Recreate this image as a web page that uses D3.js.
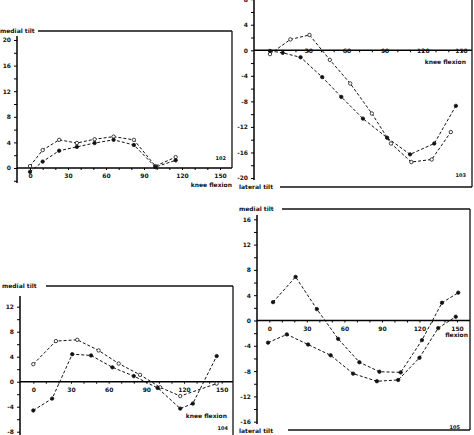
<!DOCTYPE html>
<html><head><meta charset="utf-8">
<script src="https://cdn.jsdelivr.net/npm/d3@7"></script>
<style>body{margin:0;background:#fff}svg text{font-family:"DejaVu Sans",Arial,sans-serif;font-weight:bold;fill:#111}</style>
</head><body><svg id="c" width="474" height="435"></svg>
<script>
// knee flexion (deg) and tilt (deg) per specimen
const flex102a=[0,10,23,37,51,66,82,99,115], tilt102a=[0.3,2.8,4.4,3.9,4.5,4.9,4.4,0.3,1.7];
const flex102b=[0,10,23,37,51,66,82,99,115], tilt102b=[-0.6,1.0,2.7,3.3,3.9,4.4,3.6,0.15,1.2];
const flex103a=[0,16,31,47,63,80,95,111,127,142], tilt103a=[-0.6,1.7,2.4,-1.5,-5.2,-9.9,-14.6,-17.5,-17.1,-12.8];
const flex103b=[0,10,24,41,56,73,92,110,129,146], tilt103b=[-0.1,-0.4,-1.1,-4.2,-7.3,-10.7,-13.7,-16.3,-14.6,-8.7];
const flex104a=[0,18,35,52,68,85,101,117,146], tilt104a=[2.8,6.5,6.7,5.0,2.9,1.1,-0.9,-2.3,-0.3];
const flex104b=[0,15,31,46,63,80,99,117,127,146], tilt104b=[-4.6,-2.7,4.4,4.2,2.3,0.9,-1.0,-4.3,-3.5,4.1];
const flex105a=[3,21,38,55,72,88,105,122,138,151], tilt105a=[2.9,6.9,1.8,-2.9,-6.6,-8.1,-8.2,-3.1,2.8,4.4];
const flex105b=[-1,14,31,49,67,86,103,120,135,149], tilt105b=[-3.5,-2.2,-3.8,-5.5,-8.4,-9.6,-9.4,-5.9,-1.2,0.6];
const xTickLabels=[0,30,60,90,120,150];

const svg=d3.select("#c");
function panel(o){
  const g=svg.append("g");
  const x=d3.scaleLinear().domain([0,150]).range([o.x0,o.x1]);
  const y=d3.scaleLinear().domain([o.ymin,o.ymax]).range([o.yb,o.yt]);
  const ya=d3.axisLeft(y).tickValues(d3.range(o.ymin,o.ymax+0.1,2)).tickSize(3).tickFormat(d=>d%4===0?d:"");
  const yg=g.append("g").attr("transform",`translate(${o.ax},0)`).call(ya);
  yg.select(".domain").attr("stroke-width",1.5).attr("d",`M0,${o.ayTop}V${o.ayBot}`);
  yg.selectAll("text").attr("font-size",6).attr("x",-6).attr("fill","#111");
  const xa=d3.axisBottom(x).tickValues(d3.range(0,151,10)).tickSize(2).tickFormat(d=>xTickLabels.includes(d)?d:"");
  const xg=g.append("g").attr("transform",`translate(0,${y(0)})`).call(xa);
  xg.select(".domain").attr("stroke-width",1.5).attr("d",`M${o.ax},0H${o.fr}`);
  xg.selectAll("text").attr("font-size",6).attr("dy",o.xdy||"0.9em").attr("fill","#111");
  if(o.hide0) xg.selectAll(".tick text").filter(d=>d===0).text("");
  const fs=g.append("g").attr("stroke","#111").attr("stroke-width",1.3).attr("fill","none");
  if(o.top!=null){fs.append("line").attr("x1",o.topx).attr("x2",o.fr).attr("y1",o.top).attr("y2",o.top);}
  if(o.bot!=null){fs.append("line").attr("x1",o.botx).attr("x2",o.fr).attr("y1",o.bot).attr("y2",o.bot);}
  fs.append("line").attr("x1",o.fr).attr("x2",o.fr).attr("y1",o.rt).attr("y2",o.rb);
  const line=d3.line().x(d=>x(d[0])).y(d=>y(d[1]));
  o.series.forEach(s=>{
    const pts=s.f.map((v,i)=>[v,s.t[i]]);
    g.append("path").attr("d",line(pts)).attr("fill","none").attr("stroke","#111").attr("stroke-width",1).attr("stroke-dasharray","3,2");
    g.selectAll(null).data(pts).enter().append("circle").attr("cx",d=>x(d[0])).attr("cy",d=>y(d[1])).attr("r",1.7)
      .attr("fill",s.open?"#fff":"#111").attr("stroke","#111").attr("stroke-width",0.8);
  });
  o.labels.forEach(l=>g.append("text").attr("x",l[0]).attr("y",l[1]).attr("font-size",l[3]||6).attr("fill","#111").attr("text-anchor",l[4]||"start").text(l[2]));
}
panel({x0:30,x1:220,ymin:-2,ymax:20,yb:180.8,yt:40,ax:17,ayTop:36,ayBot:183,fr:232,top:31,topx:38,rt:31,rb:168,
  series:[{f:flex102a,t:tilt102a,open:true},{f:flex102b,t:tilt102b}],
  labels:[[0,33,"medial tilt"],[232,187,"knee flexion",6,"end"],[226,160,"102",5,"end"]]});
panel({x0:270,x1:461,ymin:-20,ymax:8,yb:178,yt:-0.8,ax:254,ayTop:0,ayBot:180,fr:472,bot:187,botx:280,rt:0,rb:187,xdy:"-0.3em",hide0:true,
  series:[{f:flex103a,t:tilt103a,open:true},{f:flex103b,t:tilt103b}],
  labels:[[239,189,"lateral tilt"],[466,64,"knee flexion",6,"end"],[466,177,"103",5,"end"]]});
panel({x0:33.3,x1:221.7,ymin:-8,ymax:12,yb:431.7,yt:306.7,ax:20,ayTop:296,ayBot:435,fr:233,top:286,topx:46,rt:286,rb:435,
  series:[{f:flex104a,t:tilt104a,open:true},{f:flex104b,t:tilt104b}],
  labels:[[2,288,"medial tilt"],[227,418,"knee flexion",6,"end"],[228,430,"104",5,"end"]]});
panel({x0:269.3,x1:457,ymin:-16,ymax:16,yb:421.7,yt:219.3,ax:257,ayTop:215,ayBot:424,fr:470,top:209,topx:282,bot:430,botx:288,rt:209,rb:430,
  series:[{f:flex105a,t:tilt105a},{f:flex105b,t:tilt105b}],
  labels:[[239,211,"medial tilt"],[239,433,"lateral tilt"],[468,337,"flexion",6,"end"],[460,429,"105",5,"end"]]});
</script></body></html>
